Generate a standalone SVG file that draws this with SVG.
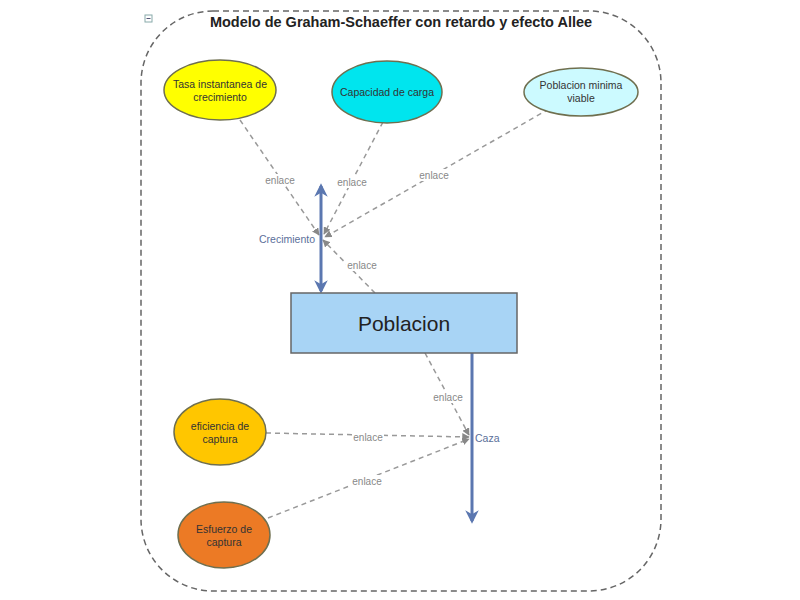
<svg xmlns="http://www.w3.org/2000/svg" width="800" height="600" viewBox="0 0 800 600">
<defs>
<style>
text{font-family:"Liberation Sans","DejaVu Sans",sans-serif}
.node{stroke:#6f6f4f;stroke-width:1.5}
.nt{font-size:10.5px;fill:#333;text-anchor:middle}
.link{stroke:#999;stroke-width:1.5;stroke-dasharray:5,4;fill:none}
.lbl{font-size:10px;fill:#888;text-anchor:middle}
.flow{stroke:#5b77b0;stroke-width:3;fill:none}
.fl{font-size:10.5px;fill:#5b6f9a}
</style>
<marker id="ga" viewBox="0 0 10 10" refX="9" refY="5" markerWidth="5" markerHeight="5" orient="auto"><path d="M0,0L10,5L0,10z" fill="#888"/></marker>
<marker id="fa" viewBox="0 0 10 10" refX="8" refY="5" markerWidth="4.5" markerHeight="5" orient="auto-start-reverse"><path d="M0,0L10,5L0,10L3,5z" fill="#5b77b0"/></marker>
</defs>
<rect x="141" y="11" width="520" height="580" rx="72" ry="72" fill="none" stroke="#666" stroke-width="1.5" stroke-dasharray="6,4"/>
<rect x="145" y="15" width="7" height="7" fill="#fff" stroke="#8aa" stroke-width="1"/>
<line x1="146.5" y1="18.5" x2="150.5" y2="18.5" stroke="#557" stroke-width="1"/>
<text x="401" y="27" text-anchor="middle" font-size="14.5" font-weight="bold" fill="#222">Modelo de Graham-Schaeffer con retardo y efecto Allee</text>
<g id="connectors">
<line class="link" x1="240" y1="120" x2="319" y2="235" marker-end="url(#ga)"/>
<line class="link" x1="383" y1="122" x2="324" y2="234" marker-end="url(#ga)"/>
<line class="link" x1="549" y1="109" x2="325" y2="237" marker-end="url(#ga)"/>
<line class="link" x1="375" y1="293" x2="323" y2="240" marker-end="url(#ga)"/>
<line class="link" x1="425" y1="353" x2="469" y2="435" marker-end="url(#ga)"/>
<line class="link" x1="266" y1="433" x2="469" y2="437" marker-end="url(#ga)"/>
<line class="link" x1="268" y1="518" x2="469" y2="439" marker-end="url(#ga)"/>
<g class="lbl">
<rect x="264" y="174" width="32" height="12" fill="#fff"/><text x="280" y="184" class="lbl">enlace</text>
<rect x="336" y="176" width="32" height="12" fill="#fff"/><text x="352" y="186" class="lbl">enlace</text>
<rect x="418" y="169" width="32" height="12" fill="#fff"/><text x="434" y="179" class="lbl">enlace</text>
<rect x="346" y="259" width="32" height="12" fill="#fff"/><text x="362" y="269" class="lbl">enlace</text>
<rect x="432" y="391" width="32" height="12" fill="#fff"/><text x="448" y="401" class="lbl">enlace</text>
<rect x="352" y="431" width="32" height="12" fill="#fff"/><text x="368" y="441" class="lbl">enlace</text>
<rect x="351" y="475" width="32" height="12" fill="#fff"/><text x="367" y="485" class="lbl">enlace</text>
</g>
<line class="flow" x1="321" y1="186" x2="321" y2="291" marker-start="url(#fa)" marker-end="url(#fa)"/>
<line class="flow" x1="472" y1="353" x2="472" y2="521" marker-end="url(#fa)"/>
<text x="259" y="243" class="fl">Crecimiento</text>
<text x="475" y="442" class="fl">Caza</text>
</g>
<g id="tasa"><ellipse cx="220" cy="90" rx="56" ry="30" fill="#ffff00" class="node"/><text class="nt" x="220" y="88">Tasa instantanea de</text><text class="nt" x="220" y="101">crecimiento</text></g>
<g id="capacidad"><ellipse cx="387" cy="92" rx="55" ry="31" fill="#00e5ee" class="node" stroke="#3a6a6a"/><text class="nt" x="387" y="96">Capacidad de carga</text></g>
<g id="pobmin"><ellipse cx="581" cy="92" rx="57" ry="24" fill="#ccfaff" class="node" stroke="#5a7a7a"/><text class="nt" x="581" y="89">Poblacion minima</text><text class="nt" x="581" y="102">viable</text></g>
<g id="eficiencia"><ellipse cx="220" cy="432" rx="46" ry="33" fill="#ffc600" class="node"/><text class="nt" x="220" y="430">eficiencia de</text><text class="nt" x="220" y="443">captura</text></g>
<g id="esfuerzo"><ellipse cx="224" cy="535" rx="46" ry="33" fill="#ec7a25" class="node" stroke="#7a4a2a"/><text class="nt" x="224" y="533">Esfuerzo de</text><text class="nt" x="224" y="546">captura</text></g>
<g id="poblacion"><rect x="291" y="293" width="226" height="60" fill="#a8d4f5" stroke="#666" stroke-width="1.5"/><text x="404" y="331" text-anchor="middle" font-size="21" fill="#222">Poblacion</text></g>
</svg>
